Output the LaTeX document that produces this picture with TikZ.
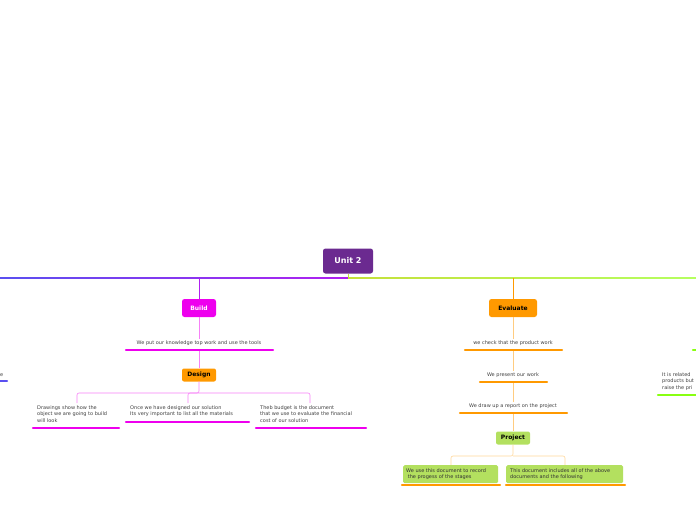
\documentclass[tikz,border=0pt]{standalone}
\usepackage{fontspec}
\setmainfont{DejaVu Sans}
\begin{document}
\begin{tikzpicture}[x=1pt,y=-1pt,
  topic/.style={rounded corners=2.5pt,text=white,font=\bfseries\fontsize{8}{9}\selectfont,inner sep=0pt},
  sub/.style={rounded corners=2pt,font=\bfseries\fontsize{6}{7}\selectfont,inner sep=0pt},
  txt/.style={font=\fontsize{5}{6.5}\selectfont,text=black!75,inner sep=0pt,align=left},
  ul/.style={line width=2.2pt,line cap=round},
  conn/.style={line width=0.6pt,rounded corners=2pt}]
\useasboundingbox (0,0) rectangle (696,520);
\definecolor{upurple}{HTML}{6B2A90}
\definecolor{mag}{HTML}{EE00EE}
\definecolor{org}{HTML}{FF9900}
\definecolor{lgreen}{HTML}{B3E05F}
\definecolor{bgreen}{HTML}{88FF11}
\definecolor{lblue}{HTML}{5A4FF0}
\definecolor{lviol}{HTML}{B020F0}
\definecolor{ylime}{HTML}{C5E03A}
\definecolor{glime}{HTML}{B5FF60}
% central
\node[topic,fill=upurple,minimum width=50pt,minimum height=25pt] (unit) at (348,261) {Unit 2};
\coordinate (hub) at (348,278);
\shade[left color=lblue,right color=lviol] (0,277.3) rectangle (348,278.7);
\shade[left color=ylime,right color=glime] (348,277.3) rectangle (696,278.7);
\draw[line width=0.8pt,ylime] (unit.south) -- (hub);
% Build
\node[topic,fill=mag,minimum width=34pt,minimum height=18pt,font=\bfseries\fontsize{6}{7}\selectfont] (build) at (199,308) {Build};
\draw[line width=0.8pt,lviol] (199,278) -- (build.north);
\node[txt] (b1) at (199,343) {We put our knowledge top work and use the tools};
\draw[ul,mag] (126,350) -- (273,350);
\draw[conn,mag!50] (build.south) -- (199,339);
\node[sub,fill=org,minimum width=34pt,minimum height=13pt] (design) at (199,375) {Design};
\draw[conn,mag!50] (199,351) -- (design.north);
\draw[conn,mag!50] (design.south) -- (199,393) -- (77,393) -- (77,403);
\draw[conn,mag!50] (199,393) -- (310,393) -- (310,403);
\draw[conn,mag!50] (199,393) -- (188,393) -- (188,403);
\node[txt,anchor=north west] (d1) at (37,405) {Drawings show how the\\object we are going to build\\will look};
\draw[ul,mag] (33,428) -- (119,428);
\node[txt,anchor=north west] (d2) at (130,405) {Once we have designed our solution\\Its very important to list all the materials};
\draw[ul,mag] (126,422) -- (249,422);
\node[txt,anchor=north west] (d3) at (260,405) {Theb budget is the document\\that we use to evaluate the financial\\cost of our solution};
\draw[ul,mag] (256,428) -- (366,428);
% left cut
\node[txt,anchor=west] (le) at (0,375) {e};
\draw[ul,lblue] (0,381) -- (7,381);
% Evaluate
\node[topic,fill=org,text=black,minimum width=48pt,minimum height=18pt,font=\bfseries\fontsize{6}{7}\selectfont] (eval) at (513,308) {Evaluate};
\draw[line width=0.8pt,org] (513,278) -- (eval.north);
\node[txt] (e1) at (513,343) {we check that the product work};
\draw[ul,org] (465,350) -- (562,350);
\node[txt] (e2) at (513,375) {We present our work};
\draw[ul,org] (480,382) -- (547,382);
\node[txt] (e3) at (513,406) {We draw up a report on the project};
\draw[ul,org] (460,413) -- (567,413);
\draw[conn,org!50] (eval.south) -- (513,339);
\draw[conn,org!50] (513,351) -- (513,371);
\draw[conn,org!50] (513,383) -- (513,402);
\node[sub,fill=lgreen,minimum width=34pt,minimum height=13pt] (proj) at (513,438) {Project};
\draw[conn,org!50] (513,414) -- (proj.north);
\draw[conn,org!40] (proj.south) -- (513,456) -- (451,456) -- (451,465);
\draw[conn,org!40] (513,456) -- (565,456) -- (565,465);
\node[fill=lgreen,rounded corners=1.5pt,anchor=north west,minimum width=95pt,minimum height=18pt,inner sep=0pt] (p1box) at (403,465) {};
\node[txt,anchor=north west,text=black!80] (p1) at (406,468) {We use this document to record\\\ the progess of the stages};
\draw[ul,org] (402,485) -- (500,485);
\node[fill=lgreen,rounded corners=1.5pt,anchor=north west,minimum width=117pt,minimum height=18pt,inner sep=0pt] (p2box) at (506,465) {};
\node[txt,anchor=north west,text=black!80] (p2) at (510,468) {This document includes all of the above\\documents and the following};
\draw[ul,org] (506,485) -- (625,485);
% right cut
\draw[ul,bgreen] (693,350) -- (698,350);
\node[txt,anchor=north west] (r1) at (662,372) {It is related\\products but\\raise the pri};
\draw[ul,bgreen] (658,395) -- (698,395);
\end{tikzpicture}
\end{document}
